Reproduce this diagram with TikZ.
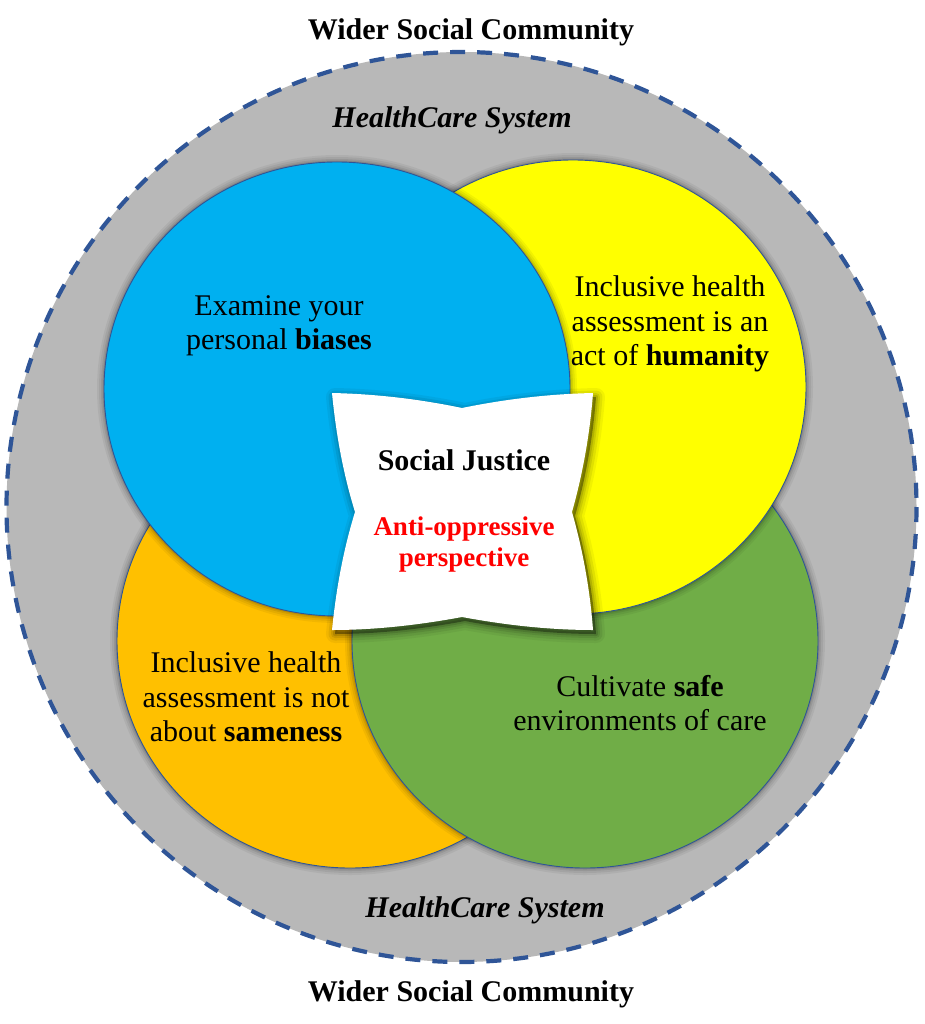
\documentclass[tikz,border=0pt]{standalone}
\usepackage{fontspec}
\setmainfont{Liberation Serif}
\definecolor{ringblue}{HTML}{2F5597}
\definecolor{outgray}{HTML}{B8B8B8}
\definecolor{cblue}{HTML}{00B0F0}
\definecolor{cyellow}{HTML}{FFFF00}
\definecolor{corange}{HTML}{FFC000}
\definecolor{cgreen}{HTML}{70AD47}
\definecolor{cred}{HTML}{FF0000}
\begin{document}
\begin{tikzpicture}[x=1pt,y=-1pt,
  txt/.style={font=\fontsize{30}{34.5}\selectfont, align=center, inner sep=0pt},
  redtxt/.style={font=\fontsize{27}{31}\selectfont\bfseries, text=cred, align=center, inner sep=0pt},
  rim/.style={draw=ringblue, line width=0.9pt},
  ell/.style={x radius=233, y radius=227}
]
\useasboundingbox (0,0) rectangle (924,1024);
\fill[white] (0,0) rectangle (924,1024);
% outer community circle
\coordinate (oc) at (461.5,507);
\fill[outgray] (oc) circle[radius=455];
\draw[ringblue, line width=4.2pt, dash pattern=on 15pt off 12pt] (oc) circle[radius=455];
% four circles: orange, green, yellow, blue
\coordinate (co) at (350,641);
\coordinate (cg) at (585,641);
\coordinate (cy) at (573,387);
\coordinate (cb) at (337,389);
\foreach \c/\col in {co/corange, cg/cgreen, cy/cyellow, cb/cblue}{
  \foreach \w/\o in {14/0.05, 10/0.06, 6/0.08, 3/0.10}{
    \draw[line width=\w pt, black, opacity=\o] (\c) ellipse[ell];
  }
  \fill[\col] (\c) ellipse[ell];
  \draw[rim] (\c) ellipse[ell];
}
% central cushion shape with shadow
\def\cushion{(332,393) .. controls (376,394) and (419,399) .. (462,408)
  .. controls (506,399) and (549,394) .. (593,393)
  .. controls (590,433) and (583,473) .. (572,512)
  .. controls (583,551) and (590,590) .. (593,630)
  .. controls (549,630) and (505,625) .. (462,617)
  .. controls (419,625) and (375,630) .. (332,630)
  .. controls (336,590) and (343,551) .. (355,512)
  .. controls (343,473) and (336,434) .. (332,393) -- cycle}
\begin{scope}[shift={(3,4)}]
  \foreach \w/\o in {18/0.05, 13/0.07, 8/0.09, 4/0.12}{
    \draw[line width=\w pt, black, opacity=\o, line join=round] \cushion;
  }
  \fill[black, opacity=0.35] \cushion;
\end{scope}
\fill[white] \cushion;
% texts
\node[txt] (wtop) at (471,32) {\textbf{Wider Social Community}};
\node[txt] (wbot) at (471,994) {\textbf{Wider Social Community}};
\node[txt] (htop) at (452,120) {\textbf{\textit{HealthCare System}}};
\node[txt] (hbot) at (485,910) {\textbf{\textit{HealthCare System}}};
\node[txt] (tblue) at (279,326) {Examine your\\personal \textbf{biases}};
\node[txt] (tyellow) at (670,324) {Inclusive health\\assessment is an\\act of \textbf{humanity}};
\node[txt] (torange) at (246,697) {Inclusive health\\assessment is not\\about \textbf{sameness}};
\node[txt] (tgreen) at (640,703) {Cultivate \textbf{safe}\\environments of care};
\node[txt] (sj) at (464,460) {\textbf{Social Justice}};
\node[redtxt] (aop) at (464,545) {Anti-oppressive\\perspective};
\end{tikzpicture}
\end{document}
